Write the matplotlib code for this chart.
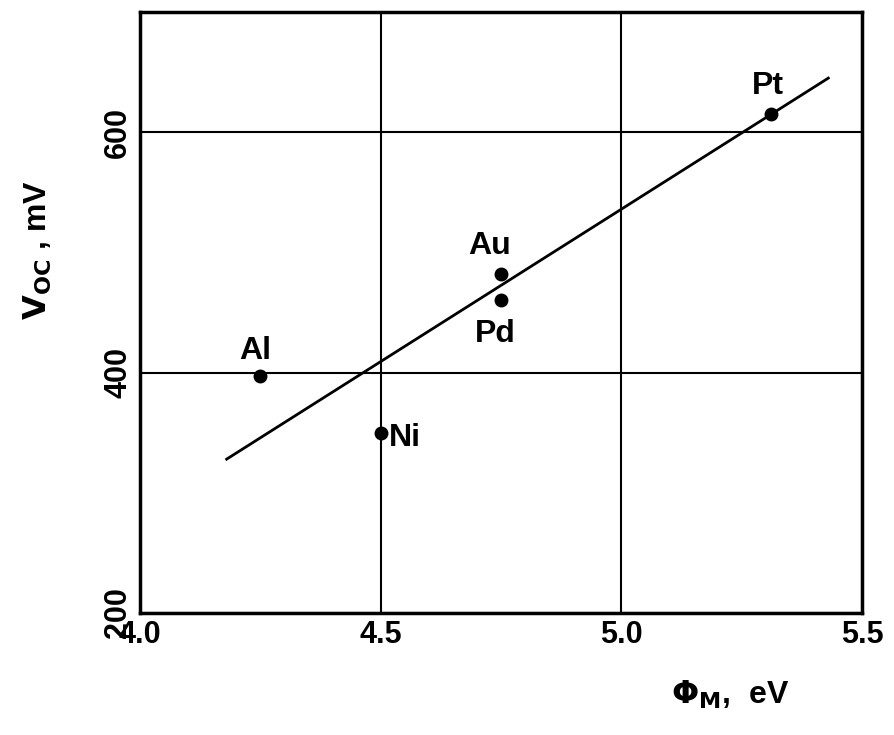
import matplotlib
matplotlib.use('Agg')
import matplotlib.pyplot as plt

metals = ['Al', 'Ni', 'Au', 'Pd', 'Pt']
phi = [4.25, 4.50, 4.75, 4.75, 5.31]
voc = [397, 350, 482, 460, 615]
fit_x = [4.18, 5.43]
fit_y = [328, 645]

plt.rcParams['font.family'] = ['Liberation Sans', 'DejaVu Sans']
plt.rcParams['font.weight'] = 'bold'

fig = plt.figure(figsize=(8.94, 7.35), dpi=100)
ax = fig.add_axes([140/894, 1 - 613/735, 722/894, 601/735])
ax.set_xlim(4.0, 5.5)
ax.set_ylim(200, 700)

ax.grid(True, color='black', linewidth=1.5)
ax.set_xticks([4.0, 4.5, 5.0, 5.5])
ax.set_yticks([200, 400, 600])
ax.set_xticklabels(['4.0', '4.5', '5.0', '5.5'], fontsize=22, fontweight='bold')
ax.set_yticklabels(['200', '400', '600'], fontsize=22, fontweight='bold', rotation=90, va='center')
ax.tick_params(length=0, pad=5)
for s in ax.spines.values():
    s.set_linewidth(2.5)

ax.plot(fit_x, fit_y, color='black', linewidth=2)
ax.plot(phi, voc, 'o', color='black', markersize=9)

offsets = {'Al': (-4, 18, 'center'), 'Ni': (6, -4, 'left'), 'Au': (-8, 20, 'center'),
           'Pd': (-4, -24, 'center'), 'Pt': (-2, 20, 'center')}
for m, x, y in zip(metals, phi, voc):
    dx, dy, ha = offsets[m]
    ax.annotate(m, (x, y), xytext=(dx, dy), textcoords='offset points',
                ha=ha, va='center', fontsize=23, fontweight='bold')

fig.text(730/894, 1 - 695/735, r'$\mathbf{\Phi_M}$,  eV', fontsize=23, fontweight='bold', ha='center', va='center')
fig.text(38/894, 1 - 250/735, r'$\mathbf{V_{OC}}$ , mV', fontsize=23, fontweight='bold', rotation=90, ha='center', va='center')

fig.savefig('out.png', dpi=100)
